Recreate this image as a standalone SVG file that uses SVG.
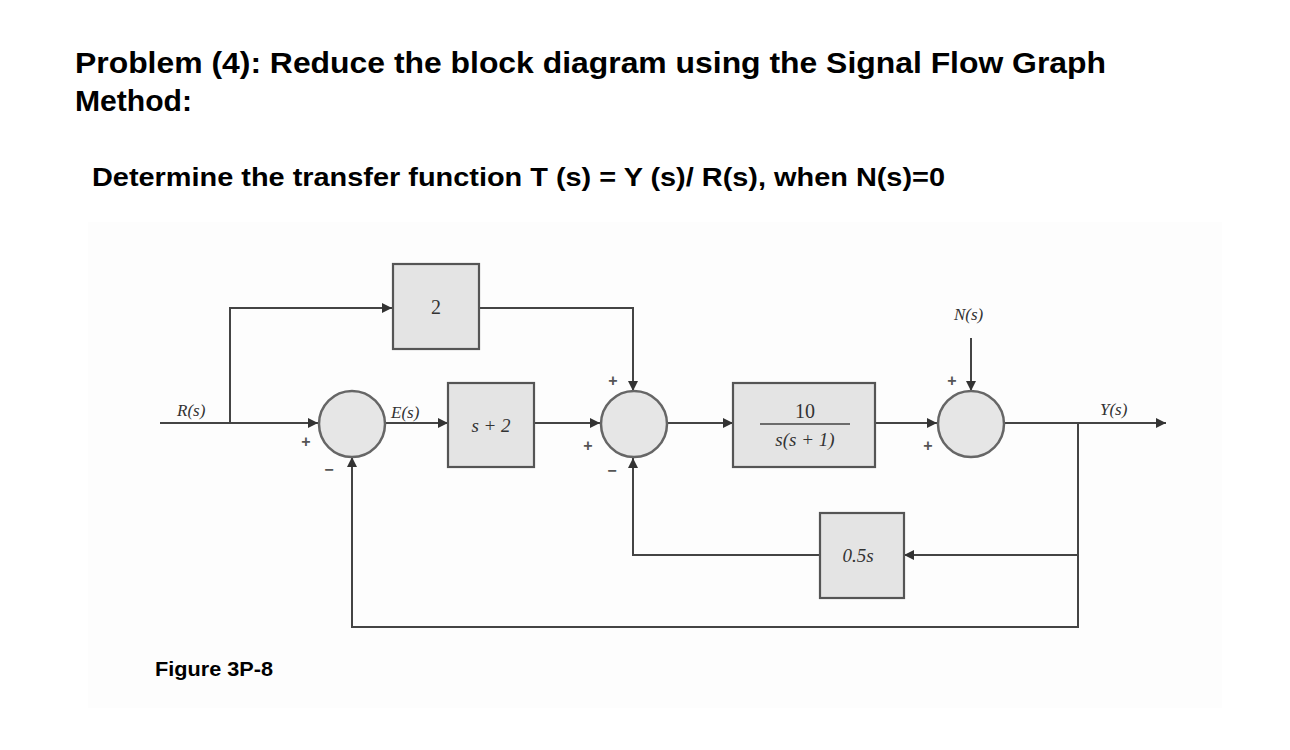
<svg xmlns="http://www.w3.org/2000/svg" width="1290" height="750" viewBox="0 0 1290 750">
<defs>
<marker id="arr" viewBox="0 0 10 10" refX="10" refY="5" markerWidth="11" markerHeight="10" markerUnits="userSpaceOnUse" orient="auto"><path d="M0,0 L10,5 L0,10 z" fill="#333"/></marker>
<style>
.hd{font-family:"Liberation Sans",Arial,sans-serif;font-weight:bold;fill:#000}
.blk{fill:#e4e4e4;stroke:#555;stroke-width:2.2}
.sum{fill:#e6e6e6;stroke:#666;stroke-width:2.5}
.ln{fill:none;stroke:#444;stroke-width:2}
.la{fill:none;stroke:#444;stroke-width:2;marker-end:url(#arr)}
.it{font-family:"Liberation Serif","Times New Roman",serif;font-style:italic;font-size:17px;fill:#333}
.bi{font-family:"Liberation Serif","Times New Roman",serif;font-style:italic;font-size:19px;fill:#333}
.tx{font-family:"Liberation Serif","Times New Roman",serif;font-size:20px;fill:#333}
.sg{font-family:"Liberation Sans",Arial,sans-serif;font-size:16px;font-weight:bold;fill:#555;text-anchor:middle}
</style>
</defs>
<rect width="1290" height="750" fill="#fff"/>
<rect x="88" y="222" width="1134" height="486" fill="#fdfdfd"/>
<text class="hd" x="75" y="73" font-size="29" textLength="1031" lengthAdjust="spacingAndGlyphs">Problem (4): Reduce the block diagram using the Signal Flow Graph</text>
<text class="hd" x="75" y="111" font-size="29" textLength="117" lengthAdjust="spacingAndGlyphs">Method:</text>
<text class="hd" x="92" y="186" font-size="26" textLength="853" lengthAdjust="spacingAndGlyphs">Determine the transfer function T (s) = Y (s)/ R(s), when N(s)=0</text>
<text class="hd" x="155" y="676" font-size="20" textLength="118" lengthAdjust="spacingAndGlyphs" fill="#222">Figure 3P-8</text>

<g id="connectors">
<path class="la" d="M160,423 H318"/>
<path class="la" d="M230,423 V308 H392"/>
<path class="la" d="M479,308 H633 V391"/>
<path class="la" d="M385,423 H448"/>
<path class="la" d="M534,423 H600"/>
<path class="la" d="M666,423 H733"/>
<path class="la" d="M875,423 H937"/>
<path class="la" d="M971,338 V391"/>
<path class="la" d="M1004,423 H1166"/>
<path class="la" d="M1078,423 V555 H904"/>
<path class="la" d="M820,555 H633 V458"/>
<path class="la" d="M1078,555 V627 H352 V457"/>
</g>

<g id="sum1"><circle class="sum" cx="352" cy="424" r="33"/><text class="sg" x="306" y="447">+</text><text class="sg" x="329" y="475">−</text></g>
<g id="sum2"><circle class="sum" cx="634" cy="424" r="33"/><text class="sg" x="613" y="386">+</text><text class="sg" x="588" y="451">+</text><text class="sg" x="612" y="476">−</text></g>
<g id="sum3"><circle class="sum" cx="971" cy="424" r="33"/><text class="sg" x="952" y="386">+</text><text class="sg" x="928" y="451">+</text></g>

<g id="block2"><rect class="blk" x="393" y="264" width="86" height="85"/><text class="tx" x="436" y="314" text-anchor="middle">2</text></g>
<g id="blockS2"><rect class="blk" x="448" y="383" width="86" height="84"/><text class="bi" x="491" y="432" text-anchor="middle">s + 2</text></g>
<g id="blockG"><rect class="blk" x="733" y="383" width="142" height="84"/><text class="tx" x="805" y="418" text-anchor="middle">10</text><line x1="760" y1="424" x2="850" y2="424" stroke="#444" stroke-width="1.5"/><text class="bi" x="805" y="446" text-anchor="middle">s(s + 1)</text></g>
<g id="blockH"><rect class="blk" x="820" y="513" width="84" height="85"/><text class="bi" x="858" y="562" text-anchor="middle">0.5s</text></g>

<g id="labels">
<text class="it" x="177" y="416">R(s)</text>
<text class="it" x="391" y="418">E(s)</text>
<text class="it" x="1100" y="415">Y(s)</text>
<text class="it" x="954" y="320">N(s)</text>
</g>
</svg>
